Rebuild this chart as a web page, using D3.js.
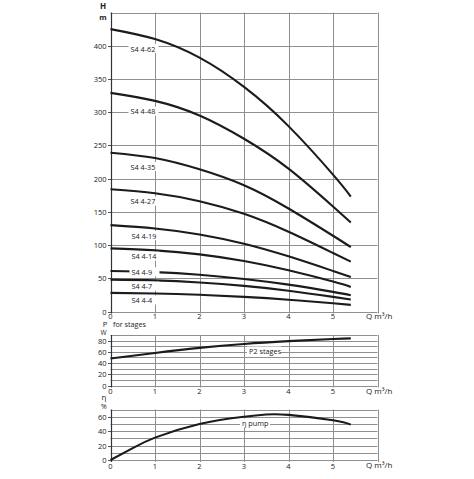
<!DOCTYPE html>
<html>
<head>
<meta charset="utf-8">
<script src="https://cdn.jsdelivr.net/npm/d3@7/dist/d3.min.js"></script>
<style>
  body { margin:0; background:#fff; }
  svg text { font-family: "Open Sans", "DejaVu Sans", sans-serif; fill:#222; }
  .grid line { stroke:#8f8f8f; stroke-width:1; }
  .curve { fill:none; stroke:#1b1b1b; stroke-width:2.1; }
</style>
</head>
<body>
<svg id="chart"></svg>
<script>
// flow points (m3/h) where the curves were read
var qHead = [0, 1, 2, 3, 4, 5, 5.4]
var pumpNames = ["S4 4-62", "S4 4-48", "S4 4-35", "S4 4-27", "S4 4-19", "S4 4-14", "S4 4-9", "S4 4-7", "S4 4-4"]
var head62 = [425, 410, 382, 338, 279, 206, 173]
var head48 = [329, 317, 295, 260, 215, 158, 134]
var head35 = [239, 231, 214, 190, 155, 114, 97]
var head27 = [184, 178, 166, 147, 120, 88, 75]
var head19 = [130, 125, 116, 102, 83, 61, 52]
var head14 = [95, 92, 86, 76, 62, 45, 37]
var head9  = [61, 59.3, 55.3, 49, 40.4, 29.5, 24.5]
var head7  = [48, 46.8, 43.6, 38.5, 31.3, 22, 18]
var head4  = [28, 27.1, 25.1, 22, 17.8, 12.4, 10]

var qPower = [0, 1, 2, 3, 4, 5, 5.4]
var powerP2 = [48, 58, 67, 74, 79, 83, 84]

var qEta = [0, 0.5, 1, 2, 3, 3.5, 4, 5, 5.4]
var etaPump = [0, 16.5, 31, 50, 60, 63, 62.5, 55, 49]

var qTicks = [0, 1, 2, 3, 4, 5]
var headTicks = [0, 50, 100, 150, 200, 250, 300, 350, 400]
var powerTicks = [0, 20, 40, 60, 80]
var etaTicks = [0, 20, 40, 60]

var screen = {width:474, height:479}
var svg = d3.select("#chart")
    .attr("width", screen.width)
    .attr("height", screen.height)

var xScale = d3.scaleLinear()
    .domain([0, 6])
    .range([110.5, 377.5])

var lineGen = function(xs, yScale) {
    return d3.line()
        .x(function(d, i){ return xScale(xs[i]) })
        .y(function(d){ return yScale(d) })
        .curve(d3.curveNatural)
}

// one panel = grid + axes + unit labels
var drawPanel = function(yScale, gridStep, yTicks, xLabelY) {
    var yMax = yScale.domain()[1]
    var g = svg.append("g")
    var gridVals = d3.range(0, yMax + 0.01, gridStep)

    g.append("g").classed("grid", true)
        .selectAll("line.h")
        .data(gridVals)
        .enter().append("line")
        .attr("x1", xScale(0)).attr("x2", xScale(6))
        .attr("y1", function(d){ return Math.round(yScale(d)) + 0.5 })
        .attr("y2", function(d){ return Math.round(yScale(d)) + 0.5 })

    g.append("g").classed("grid", true)
        .selectAll("line.v")
        .data(d3.range(1, 7))
        .enter().append("line")
        .attr("x1", function(d){ return Math.round(xScale(d)) + 0.5 })
        .attr("x2", function(d){ return Math.round(xScale(d)) + 0.5 })
        .attr("y1", yScale(0) + 2).attr("y2", yScale(yMax))

    // left axis with tick labels
    var yAxis = d3.axisLeft(yScale).tickValues(yTicks).tickSize(3.5).tickPadding(1.5)
    var ya = g.append("g")
        .attr("transform", "translate(" + (Math.round(xScale(0)) + 0.5) + ",0)")
        .call(yAxis)
    ya.select(".domain").remove()
    ya.selectAll("line").attr("stroke", "#555")
    ya.selectAll("text").style("font-size", "7.5px").attr("fill", "#222")
    ya.selectAll(".tick").attr("transform", function(d){ return "translate(0," + (Math.round(yScale(d)) + 0.5) + ")" })
    g.append("line")
        .attr("x1", Math.round(xScale(0)) + 0.5).attr("x2", Math.round(xScale(0)) + 0.5)
        .attr("y1", yScale(0) + 2).attr("y2", yScale(yMax))
        .attr("stroke", "#333").attr("stroke-width", 1.2)

    // x tick labels
    g.selectAll("text.xt")
        .data(qTicks)
        .enter().append("text")
        .attr("x", function(d){ return xScale(d) })
        .attr("y", xLabelY)
        .attr("text-anchor", "middle")
        .style("font-size", "7.5px")
        .text(function(d){ return d })
    g.append("text")
        .attr("x", 366).attr("y", xLabelY - 0.5)
        .style("font-size", "8px")
        .text("Q m³/h")
    return g
}

var addLabel = function(g, txt, x, y, w) {
    g.append("rect")
        .attr("x", x - 2).attr("y", y - 5)
        .attr("width", w).attr("height", 9)
        .attr("fill", "#fff")
    g.append("text")
        .attr("x", x).attr("y", y + 2.5)
        .style("font-size", "7.3px")
        .attr("fill", "#333")
        .text(txt)
}

// ---- head panel ----
var yHead = d3.scaleLinear().domain([0, 450]).range([311.5, 12.5])
var gHead = drawPanel(yHead, 50, headTicks, 319)
var heads = [head62, head48, head35, head27, head19, head14, head9, head7, head4]
gHead.selectAll("path.curve")
    .data(heads)
    .enter().append("path")
    .classed("curve", true)
    .attr("d", function(d){ return lineGen(qHead, yHead)(d) })

var headLabelY = [49, 111.7, 167, 201.7, 236, 256.7, 272.3, 286.7, 300.5]
pumpNames.forEach(function(n, i) {
    addLabel(gHead, n, i < 4 ? 130.5 : 131.5, headLabelY[i], 30)
})
svg.append("text").attr("x", 103).attr("y", 9).attr("text-anchor", "middle")
    .style("font-size", "8px").style("font-weight", "bold").text("H")
svg.append("text").attr("x", 103).attr("y", 19.5).attr("text-anchor", "middle")
    .style("font-size", "7.5px").style("font-weight", "bold").text("m")

// ---- power panel ----
var yPower = d3.scaleLinear().domain([0, 90]).range([385.5, 335])
var gPower = drawPanel(yPower, 10, powerTicks, 394)
gPower.append("path").classed("curve", true)
    .attr("d", lineGen(qPower, yPower)(powerP2))
addLabel(gPower, "P2 stages", 249, 351.5, 34)
svg.append("text").attr("x", 105).attr("y", 327).attr("text-anchor", "middle")
    .style("font-size", "7.5px").text("P")
svg.append("text").attr("x", 113).attr("y", 327)
    .style("font-size", "7.2px").text("for stages")
svg.append("text").attr("x", 103.5).attr("y", 335).attr("text-anchor", "middle")
    .style("font-size", "6.5px").text("W")

// ---- efficiency panel ----
var yEta = d3.scaleLinear().domain([0, 70]).range([460, 409.5])
var gEta = drawPanel(yEta, 10, etaTicks, 468.5)
gEta.append("path").classed("curve", true)
    .attr("d", lineGen(qEta, yEta)(etaPump))
addLabel(gEta, "η pump", 242, 423.5, 30)
svg.append("text").attr("x", 104).attr("y", 399.5).attr("text-anchor", "middle")
    .style("font-size", "8px").text("η")
svg.append("text").attr("x", 104).attr("y", 408.5).attr("text-anchor", "middle")
    .style("font-size", "7px").text("%")
</script>
</body>
</html>
